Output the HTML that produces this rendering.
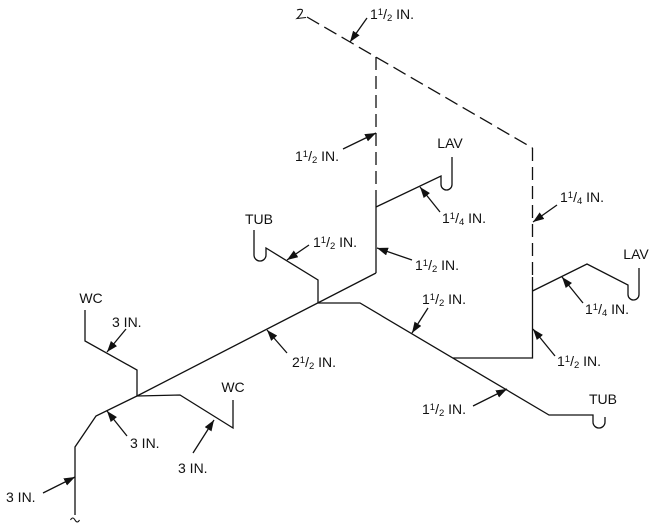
<!DOCTYPE html>
<html>
<head>
<meta charset="utf-8">
<style>
  html, body { margin: 0; padding: 0; background: #fff; }
  svg { display: block; }
  text { font-family: "Liberation Sans", Arial, sans-serif; font-size: 14px; fill: #111; }
</style>
</head>
<body>
<svg width="653" height="526" viewBox="0 0 653 526" xmlns="http://www.w3.org/2000/svg">
  <defs>
    <marker id="ah" markerWidth="12" markerHeight="9" refX="11" refY="4" orient="auto" markerUnits="userSpaceOnUse">
      <path d="M0,0 L11,4 L0,8 z" fill="#111"/>
    </marker>
  </defs>

  <g fill="none" stroke="#111" stroke-width="1.3" stroke-linejoin="miter">
    <path d="M75,515 V447 L96,416 L137,396"/>
    <path d="M137,396 L376,273"/>
    <path d="M137,396 V370 L85,341 V310"/>
    <path d="M137,396 L180,395 L233,428 V400"/>
    <path d="M318,303 V280 L266,248 V255 A6,6 0 0 1 254,255 V230"/>
    <path d="M376,273 V198"/>
    <path d="M376,207 L441,176 V184.5 A5.5,5.5 0 0 0 452,184.5 V157"/>
    <path d="M318,303 H360 L549,415 H593 V422 A6,6 0 0 0 605,422 V417"/>
    <path d="M453,358 H532.5 V277"/>
    <path d="M532.5,291 L587,264 L628,285 V294.5 A5.5,5.5 0 0 0 639,294.5 V268"/>
    <path d="M307,17 L532.5,148" stroke-dasharray="14 6"/>
    <path d="M376,57 V198" stroke-dasharray="13 6"/>
    <path d="M532.5,148 V277" stroke-dasharray="13 6"/>
    <path d="M297,10 Q304,8 302,12 Q300,16 297,18.5 L306,17.5" stroke-width="1.1"/>
    <path d="M70.5,520 q2.2,-4 4.5,0 t4.5,0" stroke-width="1.1"/>
  </g>

  <g stroke="#111" stroke-width="1.3" marker-end="url(#ah)" fill="none">
    <line x1="367" y1="18" x2="350" y2="42"/>
    <line x1="343" y1="149" x2="376" y2="133"/>
    <line x1="440" y1="212" x2="420" y2="187"/>
    <line x1="557" y1="205" x2="533" y2="222"/>
    <line x1="309" y1="245" x2="287" y2="260"/>
    <line x1="412" y1="260" x2="377" y2="248"/>
    <line x1="428" y1="308" x2="412" y2="333"/>
    <line x1="583" y1="303" x2="562" y2="277"/>
    <line x1="555" y1="356" x2="533" y2="329"/>
    <line x1="473" y1="406" x2="507" y2="389"/>
    <line x1="287" y1="353" x2="267" y2="330"/>
    <line x1="126" y1="329" x2="107" y2="352"/>
    <line x1="127" y1="436" x2="107" y2="411"/>
    <line x1="193" y1="453" x2="214" y2="420"/>
    <line x1="43" y1="493" x2="75" y2="477"/>
  </g>

  <text x="370" y="19">1<tspan font-size="9.5" dy="-4">1</tspan><tspan dy="4">/</tspan><tspan font-size="9.5" dy="2">2</tspan><tspan dy="-2"> IN.</tspan></text>
  <text x="295" y="161">1<tspan font-size="9.5" dy="-4">1</tspan><tspan dy="4">/</tspan><tspan font-size="9.5" dy="2">2</tspan><tspan dy="-2"> IN.</tspan></text>
  <text x="450" y="148" text-anchor="middle">LAV</text>
  <text x="442" y="223">1<tspan font-size="9.5" dy="-4">1</tspan><tspan dy="4">/</tspan><tspan font-size="9.5" dy="2">4</tspan><tspan dy="-2"> IN.</tspan></text>
  <text x="560" y="202">1<tspan font-size="9.5" dy="-4">1</tspan><tspan dy="4">/</tspan><tspan font-size="9.5" dy="2">4</tspan><tspan dy="-2"> IN.</tspan></text>
  <text x="259" y="224" text-anchor="middle">TUB</text>
  <text x="313" y="247">1<tspan font-size="9.5" dy="-4">1</tspan><tspan dy="4">/</tspan><tspan font-size="9.5" dy="2">2</tspan><tspan dy="-2"> IN.</tspan></text>
  <text x="415" y="270">1<tspan font-size="9.5" dy="-4">1</tspan><tspan dy="4">/</tspan><tspan font-size="9.5" dy="2">2</tspan><tspan dy="-2"> IN.</tspan></text>
  <text x="636" y="259" text-anchor="middle">LAV</text>
  <text x="422" y="304">1<tspan font-size="9.5" dy="-4">1</tspan><tspan dy="4">/</tspan><tspan font-size="9.5" dy="2">2</tspan><tspan dy="-2"> IN.</tspan></text>
  <text x="585" y="314">1<tspan font-size="9.5" dy="-4">1</tspan><tspan dy="4">/</tspan><tspan font-size="9.5" dy="2">4</tspan><tspan dy="-2"> IN.</tspan></text>
  <text x="557" y="366">1<tspan font-size="9.5" dy="-4">1</tspan><tspan dy="4">/</tspan><tspan font-size="9.5" dy="2">2</tspan><tspan dy="-2"> IN.</tspan></text>
  <text x="422" y="414">1<tspan font-size="9.5" dy="-4">1</tspan><tspan dy="4">/</tspan><tspan font-size="9.5" dy="2">2</tspan><tspan dy="-2"> IN.</tspan></text>
  <text x="603" y="404" text-anchor="middle">TUB</text>
  <text x="292" y="367">2<tspan font-size="9.5" dy="-4">1</tspan><tspan dy="4">/</tspan><tspan font-size="9.5" dy="2">2</tspan><tspan dy="-2"> IN.</tspan></text>
  <text x="91" y="303" text-anchor="middle">WC</text>
  <text x="112" y="327">3 IN.</text>
  <text x="233" y="392" text-anchor="middle">WC</text>
  <text x="130" y="448">3 IN.</text>
  <text x="178" y="473">3 IN.</text>
  <text x="6" y="502">3 IN.</text>
</svg>
</body>
</html>
